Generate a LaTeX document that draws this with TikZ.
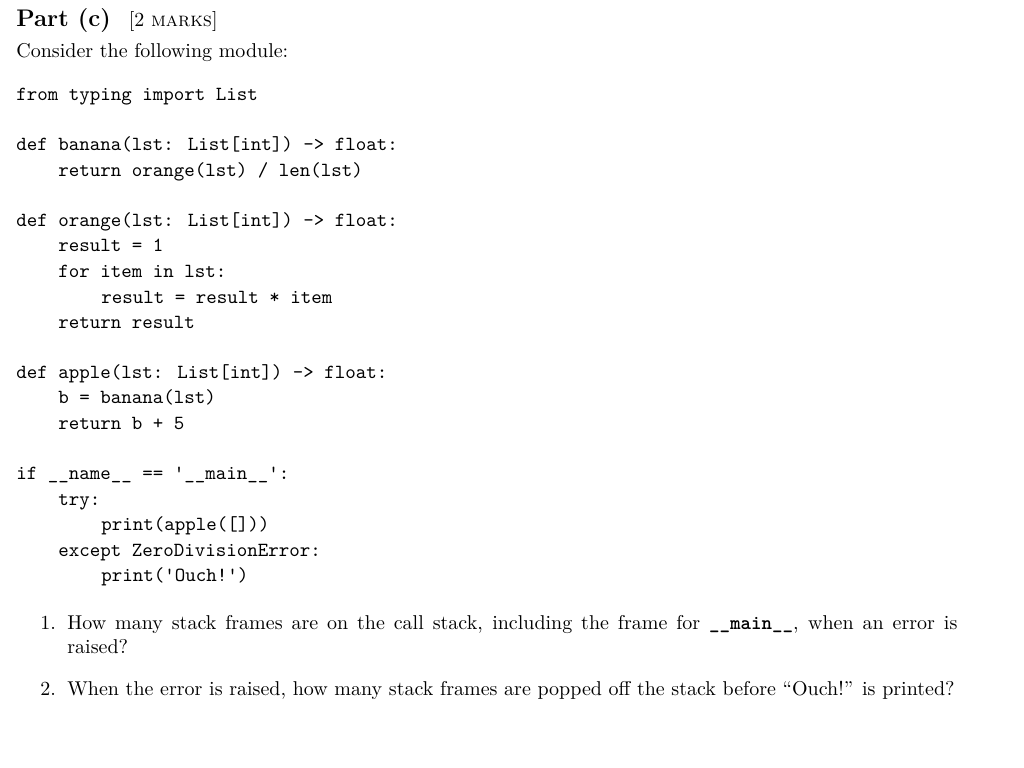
\documentclass[tikz,border=0pt]{standalone}
\begin{document}
\begin{tikzpicture}[x=0.5pt,y=-0.5pt,
  code/.style={anchor=base west,inner sep=0pt,font=\ttfamily},
  txt/.style={anchor=base west,inner sep=0pt}]
\useasboundingbox[fill=white] (0,0) rectangle (1024,767);
\node[txt] (t) at (16,26) {\large\bfseries Part (c)\ \ \normalfont\normalsize[2 \textsc{marks}]};
\node[txt] (c) at (16,57) {Consider the following module:};
\node[code] (l1) at (16,100) {from typing import List};
\node[code] (l2) at (16,150) {def banana(lst: List[int]) -> float:};
\node[code] (l3) at (58,176) {return orange(lst) / len(lst)};
\node[code] (l4) at (16,226) {def orange(lst: List[int]) -> float:};
\node[code] (l5) at (58,251) {result = 1};
\node[code] (l6) at (58,277) {for item in lst:};
\node[code] (l7) at (101,303) {result = result * item};
\node[code] (l8) at (58,328) {return result};
\node[code] (l9) at (16,378) {def apple(lst: List[int]) -> float:};
\node[code] (l10) at (58,403) {b = banana(lst)};
\node[code] (l11) at (58,429) {return b + 5};
\node[code] (l12) at (16,479) {if \_\_name\_\_ == '\_\_main\_\_':};
\node[code] (l13) at (58,505) {try:};
\node[code] (l14) at (101,530) {print(apple([]))};
\node[code] (l15) at (58,556) {except ZeroDivisionError:};
\node[code] (l16) at (101,581) {print('Ouch!')};
\node[txt] (n1) at (40,629) {1.};
\node[txt,anchor=north west] (q1) at (67,615) {\parbox[t]{445pt}{\baselineskip=12pt How many stack frames are on the call stack, including the frame for \texttt{\bfseries\_\_main\_\_}, when an error is raised?}};
\node[txt] (n2) at (40,695) {2.};
\node[txt] (q2) at (67,695) {When the error is raised, how many stack frames are popped off the stack before ``Ouch!'' is printed?};
\end{tikzpicture}
\end{document}
